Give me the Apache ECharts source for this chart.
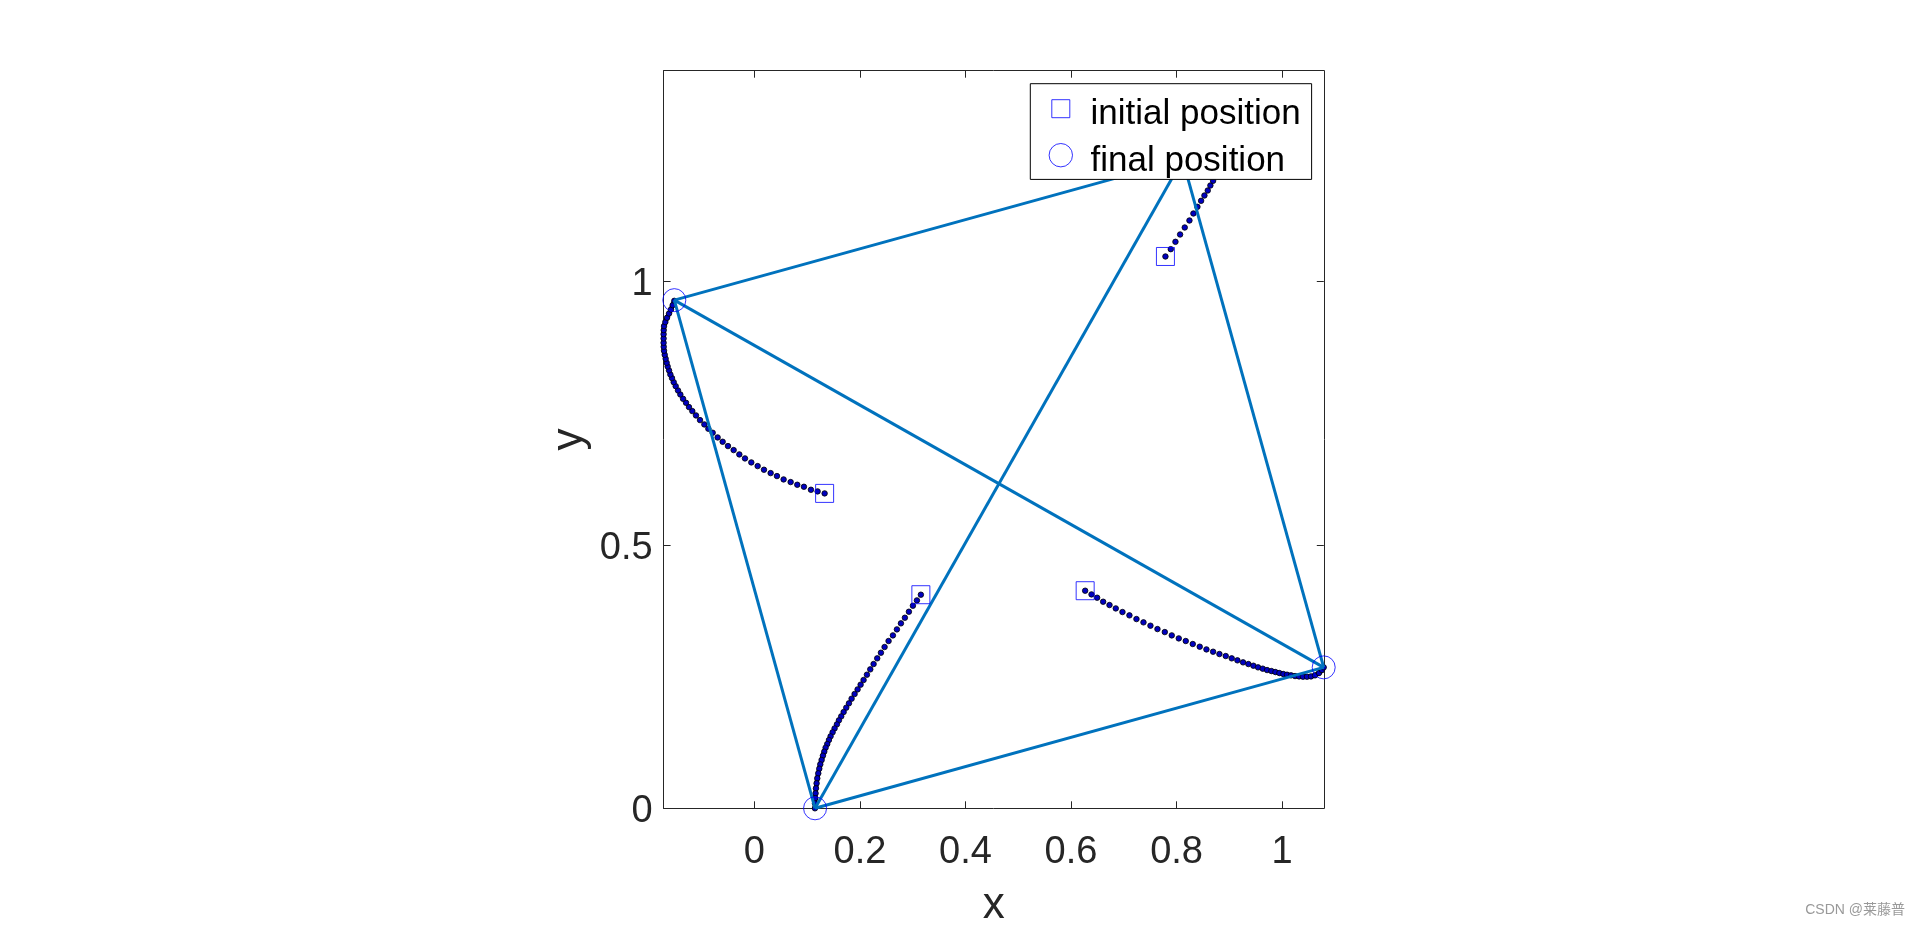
<!DOCTYPE html>
<html>
<head>
<meta charset="utf-8">
<title>initial / final position</title>
<script src="https://cdn.jsdelivr.net/npm/echarts@6/dist/echarts.min.js"></script>
<style>
  html, body { margin: 0; padding: 0; background: #fff; }
  #chart { width: 1920px; height: 927px; }
</style>
</head>
<body>
<div id="chart"></div>
<script>
// tick labels
const xTicks = [0, 0.2, 0.4, 0.6, 0.8, 1]
const yTicks = [0, 0.5, 1]

// start / end of each agent
const initialPos = [[0.1331, 0.5977], [0.3155, 0.4054], [0.6268, 0.4130], [0.7789, 1.0474]]
const finalPos = [[0.115, 0], [1.0788, 0.2675], [0.8115, 1.2313], [-0.1517, 0.9645]]

// links between final positions (indices into finalPos)
const edges = [[3, 2], [2, 1], [1, 0], [0, 3], [3, 1], [0, 2]]

// trajectories
const track1 = [
  [0.1331, 0.5977], [0.1198, 0.6015], [0.1072, 0.6046], [0.0939, 0.6103], [0.0813, 0.6141],
  [0.0687, 0.6192], [0.0554, 0.6242], [0.0428, 0.6306], [0.0308, 0.6362], [0.0182, 0.6426],
  [0.0062, 0.6495], [-0.0058, 0.6565], [-0.0178, 0.6641], [-0.0285, 0.6717], [-0.0393, 0.6799],
  [-0.0500, 0.6875], [-0.0601, 0.6957], [-0.0696, 0.7039], [-0.0790, 0.7128], [-0.0872, 0.7204],
  [-0.0948, 0.7286], [-0.1030, 0.7368], [-0.1106, 0.7457], [-0.1176, 0.7539], [-0.1239, 0.7615],
  [-0.1295, 0.7697], [-0.1352, 0.7773], [-0.1403, 0.7855], [-0.1447, 0.7931], [-0.1491, 0.8013],
  [-0.1529, 0.8089], [-0.1561, 0.8165], [-0.1592, 0.8235], [-0.1617, 0.8311], [-0.1643, 0.8386],
  [-0.1662, 0.8456], [-0.1681, 0.8532], [-0.1699, 0.8608], [-0.1712, 0.8684], [-0.1718, 0.8760],
  [-0.1720, 0.8835], [-0.1720, 0.8918], [-0.1720, 0.9000], [-0.1718, 0.9076], [-0.1712, 0.9152],
  [-0.1687, 0.9228], [-0.1655, 0.9310], [-0.1617, 0.9392], [-0.1580, 0.9468], [-0.1548, 0.9550],
  [-0.1517, 0.9632]
]
const track2 = [
  [0.3155, 0.4054], [0.3080, 0.3946], [0.3004, 0.3845], [0.2928, 0.3731], [0.2852, 0.3617],
  [0.2777, 0.3510], [0.2701, 0.3396], [0.2625, 0.3282], [0.2543, 0.3175], [0.2467, 0.3061],
  [0.2398, 0.2953], [0.2328, 0.2846], [0.2259, 0.2738], [0.2196, 0.2637], [0.2133, 0.2536],
  [0.2069, 0.2435], [0.2013, 0.2346], [0.1956, 0.2257], [0.1899, 0.2169], [0.1842, 0.2080],
  [0.1792, 0.1992], [0.1741, 0.1910], [0.1691, 0.1827], [0.1646, 0.1745], [0.1602, 0.1669],
  [0.1564, 0.1593], [0.1520, 0.1517], [0.1482, 0.1442], [0.1444, 0.1366], [0.1413, 0.1296],
  [0.1381, 0.1220], [0.1350, 0.1151], [0.1324, 0.1075], [0.1299, 0.0999], [0.1274, 0.0917],
  [0.1249, 0.0834], [0.1230, 0.0752], [0.1211, 0.0664], [0.1192, 0.0569], [0.1179, 0.0474],
  [0.1167, 0.0379], [0.1160, 0.0284], [0.1154, 0.0189], [0.1148, 0.0094], [0.1148, 0.0]
]
const track3 = [
  [0.6268, 0.4130], [0.6388, 0.4060], [0.6495, 0.3997], [0.6609, 0.3921], [0.6729, 0.3858],
  [0.6848, 0.3794], [0.6975, 0.3725], [0.7107, 0.3662], [0.7240, 0.3592], [0.7373, 0.3529],
  [0.7505, 0.3466], [0.7638, 0.3402], [0.7777, 0.3345], [0.7909, 0.3282], [0.8042, 0.3225],
  [0.8174, 0.3175], [0.8307, 0.3118], [0.8439, 0.3067], [0.8566, 0.3016], [0.8692, 0.2972],
  [0.8812, 0.2928], [0.8932, 0.2890], [0.9045, 0.2846], [0.9153, 0.2808], [0.9260, 0.2770],
  [0.9361, 0.2738], [0.9456, 0.2706], [0.9544, 0.2675], [0.9633, 0.2650], [0.9715, 0.2624],
  [0.9797, 0.2605], [0.9873, 0.2586], [0.9948, 0.2567], [1.0024, 0.2548], [1.0093, 0.2536],
  [1.0169, 0.2523], [1.0245, 0.2510], [1.0321, 0.2504], [1.0396, 0.2498], [1.0472, 0.2498],
  [1.0548, 0.2504], [1.0624, 0.2523], [1.0699, 0.2567], [1.0756, 0.2624], [1.0788, 0.2675]
]
const track4 = [
  [0.7789, 1.0474], [0.7890, 1.0613], [0.7979, 1.0752], [0.8067, 1.0891], [0.8155, 1.1024],
  [0.8244, 1.1157], [0.8319, 1.1290], [0.8395, 1.1416], [0.8465, 1.1530], [0.8528, 1.1631],
  [0.8591, 1.1726], [0.8641, 1.1821], [0.8692, 1.1910]
]
const tracks = [track1, track2, track3, track4]
// index where the dots pile up into a dark tail
const tailStart = [36, 31, 30, 13]

const FONT = '"Liberation Sans", Arial, Helvetica, sans-serif'
const AXIS_COLOR = '#262626'
const EDGE_COLOR = '#0072BD'
const MARK_COLOR = '#0000ff'

const chart = echarts.init(document.getElementById('chart'), null, { renderer: 'canvas' })

const frameAxis = (position, isX) => ({
  type: 'value',
  position: position,
  min: isX ? -0.172 : 0,
  max: isX ? 1.079 : 1.4,
  axisLine: { show: true, onZero: false, lineStyle: { color: AXIS_COLOR, width: 1 } },
  axisTick: {
    show: true, inside: true, length: 7,
    customValues: isX ? xTicks : yTicks,
    lineStyle: { color: AXIS_COLOR, width: 1 }
  },
  axisLabel: { show: false },
  splitLine: { show: false }
})

const xBottom = Object.assign(frameAxis('bottom', true), {
  axisLabel: {
    show: true, customValues: xTicks, margin: 25,
    fontSize: 38, color: AXIS_COLOR, fontFamily: FONT
  },
  name: 'x', nameLocation: 'middle', nameGap: 76,
  nameTextStyle: { fontSize: 44, color: AXIS_COLOR, fontFamily: FONT }
})
const yLeft = Object.assign(frameAxis('left', false), {
  axisLabel: {
    show: true, customValues: yTicks, margin: 11,
    formatter: '{v|{value}}',
    rich: { v: { fontSize: 38, color: AXIS_COLOR, fontFamily: FONT, padding: [7, 0, 0, 0] } },
    fontSize: 38, color: AXIS_COLOR, fontFamily: FONT
  },
  name: 'y', nameLocation: 'middle', nameGap: 72,
  nameTextStyle: { fontSize: 44, color: AXIS_COLOR, fontFamily: FONT }
})

const series = []

// dark tails (dense dots near the end)
tracks.forEach((t, i) => {
  if (tailStart[i] >= t.length - 1) return
  series.push({
    type: 'line',
    data: t.slice(tailStart[i]),
    showSymbol: false,
    symbol: 'none',
    lineStyle: { color: '#000', width: 4.5 },
    z: 1,
    silent: true
  })
})

// dotted trajectories
tracks.forEach(t => {
  series.push({
    type: 'scatter',
    data: t,
    symbol: 'circle',
    symbolSize: 5.5,
    itemStyle: { color: '#0000c0', borderColor: '#000', borderWidth: 0.8, opacity: 1 },
    z: 2,
    silent: true
  })
})

// links between final positions
edges.forEach(e => {
  series.push({
    type: 'line',
    data: [finalPos[e[0]], finalPos[e[1]]],
    showSymbol: false,
    symbol: 'none',
    lineStyle: { color: EDGE_COLOR, width: 3 },
    z: 3,
    silent: true
  })
})

const markStyle = { color: 'rgba(0,0,0,0)', borderColor: MARK_COLOR, borderWidth: 1 }

series.push({
  name: 'initial position',
  type: 'scatter',
  data: initialPos,
  symbol: 'rect',
  symbolSize: 18,
  itemStyle: markStyle,
  z: 5,
  silent: true
})
series.push({
  name: 'final position',
  type: 'scatter',
  data: finalPos,
  symbol: 'circle',
  symbolSize: 23,
  itemStyle: markStyle,
  z: 5,
  silent: true
})

const option = {
  animation: false,
  backgroundColor: '#fff',
  grid: {
    left: 663.6, right: 596.2, top: 70.7, bottom: 118.7,
    containLabel: false,
    outerBoundsMode: 'none'
  },
  xAxis: [xBottom, frameAxis('top', true)],
  yAxis: [yLeft, frameAxis('right', false)],
  legend: {
    orient: 'vertical',
    left: 1030.3,
    top: 83.7,
    padding: [12, 11, 0, 6.7],
    itemGap: 9.7,
    itemWidth: 48,
    itemHeight: 36,
    backgroundColor: '#fff',
    borderColor: '#000',
    borderWidth: 1,
    borderRadius: 0,
    z: 10,
    selectedMode: false,
    textStyle: { fontSize: 35, color: '#000', fontFamily: FONT },
    data: [
      {
        name: 'initial position',
        icon: 'path://M0,0M48,36M14.3,3.5L32.3,3.5L32.3,21.5L14.3,21.5Z',
        itemStyle: { color: 'rgba(0,0,0,0)', borderColor: MARK_COLOR, borderWidth: 1 }
      },
      {
        name: 'final position',
        icon: 'path://M0,0M48,36M35,12.3A11.7,11.7 0 1,1 11.6,12.3A11.7,11.7 0 1,1 35,12.3Z',
        itemStyle: { color: 'rgba(0,0,0,0)', borderColor: MARK_COLOR, borderWidth: 1 }
      }
    ]
  },
  graphic: [{
    type: 'text',
    right: 15,
    top: 903,
    style: { text: 'CSDN @莱藤普', fontSize: 14, fill: '#999', fontFamily: '"Liberation Sans", Arial, "Noto Sans CJK SC", sans-serif' }
  }],
  series: series
}

chart.setOption(option)
</script>
</body>
</html>
